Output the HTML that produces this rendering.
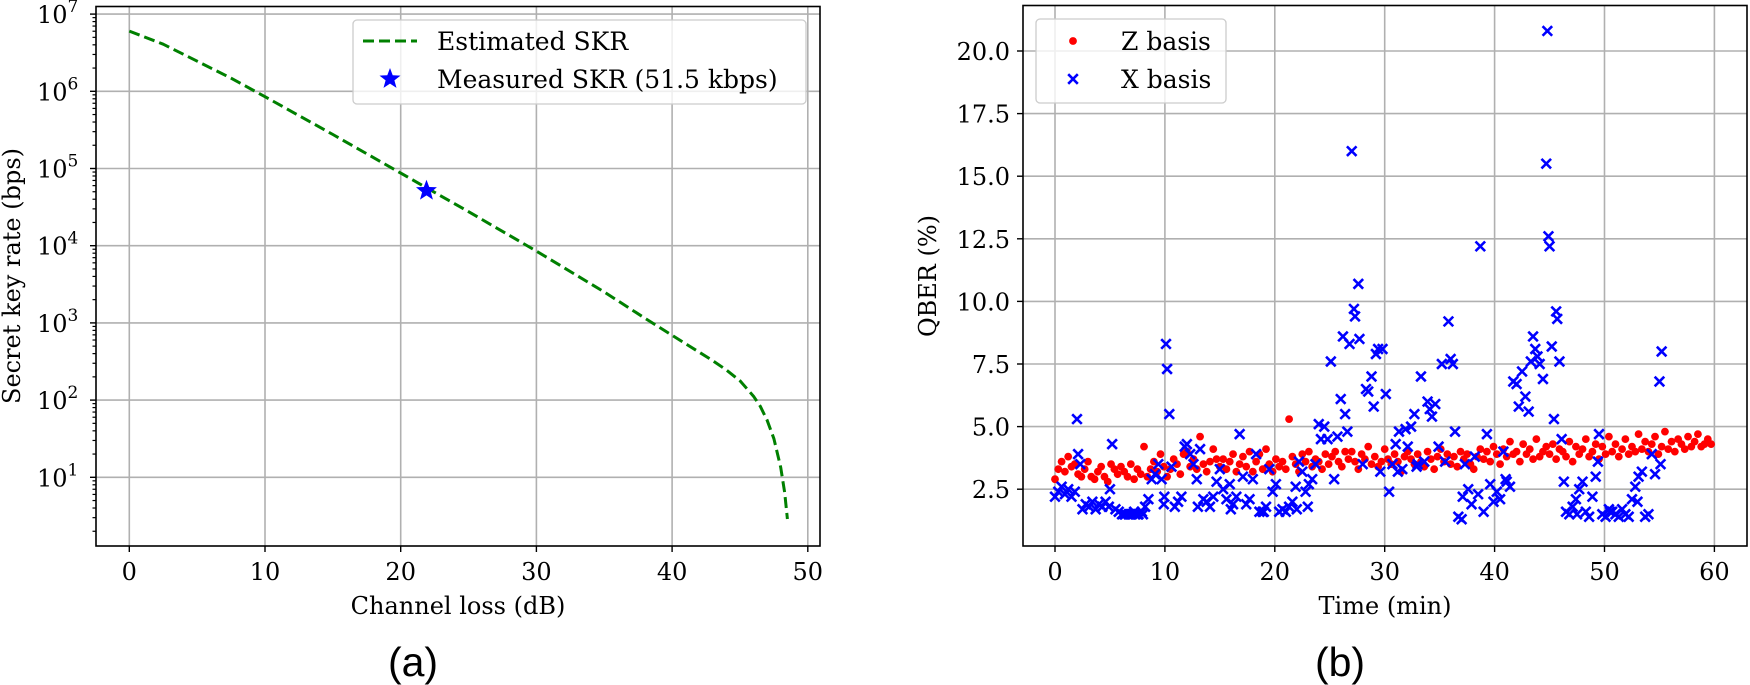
<!DOCTYPE html>
<html><head><meta charset="utf-8">
<style>
html,body{margin:0;padding:0;background:#fff;}
svg{display:block;}
text{font-family:"DejaVu Serif","Liberation Serif",serif;fill:#000;}
.cap{font-family:"Liberation Sans",Arial,sans-serif;}
</style></head>
<body>
<svg id="fig" width="1750" height="685" viewBox="0 0 1750 685" xmlns="http://www.w3.org/2000/svg">
  <g id="pa"></g>
  <g id="pb"></g>
</svg>
<script>
// ---------- Panel (a) data ----------
const lossValues = [0,2.5,5,7.5,10,15,20,25,30,35,38,40,42,43,44,45,46,46.5,47,47.5,48,48.3,48.5];
const skrLog10 = [6.78,6.61,6.39,6.17,5.93,5.44,4.94,4.44,3.93,3.40,3.06,2.84,2.62,2.51,2.39,2.25,2.05,1.92,1.74,1.50,1.13,0.8,0.46];
const measuredLoss = [21.9];
const measuredSkr = [51500];
const aXTicks = [0,10,20,30,40,50];
const aYTickExp = [1,2,3,4,5,6,7];

// ---------- Panel (b) data ----------
const zTimeStep = 0.3;
const zQber = [
2.9,3.3,3.6,3.2,3.8,3.4,3.5,3.1,3.0,3.3,
3.6,3.0,2.9,3.2,3.4,3.0,2.8,3.5,3.3,3.1,
3.4,3.2,3.0,3.5,2.9,3.3,3.1,4.2,3.0,3.3,
3.6,3.2,3.9,3.4,3.0,3.3,3.7,3.5,3.1,3.9,
4.0,3.4,3.7,3.3,4.6,3.5,3.2,3.6,4.1,3.7,
3.4,3.7,3.3,3.6,3.9,3.2,3.5,3.8,3.4,4.0,
3.2,3.6,3.9,3.3,4.1,3.5,3.2,3.7,3.4,3.6,
3.3,5.3,3.8,3.5,3.2,3.9,3.6,4.0,3.4,3.7,
3.6,3.3,3.9,3.5,3.8,4.0,3.6,3.4,4.0,3.7,
4.0,3.6,3.3,3.9,3.7,4.2,3.5,3.8,3.4,3.6,
4.1,3.7,3.5,3.9,3.6,3.2,3.8,4.0,3.7,3.5,
3.9,3.6,3.4,4.0,3.7,3.3,3.8,4.1,3.6,3.9,
3.5,3.8,3.4,4.0,3.7,3.9,3.5,3.3,3.8,4.1,
3.7,4.0,3.6,4.2,3.9,3.5,4.1,3.8,4.4,3.9,
4.0,3.6,4.3,3.9,4.1,3.7,4.5,3.8,4.0,4.2,
3.9,4.3,3.7,4.1,4.0,3.8,4.4,3.6,4.2,3.9,
4.1,4.5,3.8,4.0,4.3,3.7,4.2,3.9,4.6,4.0,
4.3,3.8,4.1,4.5,3.9,4.2,4.0,4.7,4.1,4.4,
4.0,4.3,4.6,3.9,4.2,4.8,4.1,4.4,4.0,4.5,
4.3,4.1,4.6,4.2,4.4,4.7,4.2,4.3,4.5,4.3];
const xTimes = [0,0.3,0.6,0.9,1.2,1.5,1.8,2.0,2.1,2.3,2.5,2.8,3.1,3.4,3.7,4.0,4.3,4.6,4.9,5.0,5.2,5.5,5.8,6.1,6.4,6.7,7.0,7.3,7.6,7.9,8.2,8.5,8.8,9.1,9.4,9.7,9.9,9.95,
10.1,10.2,10.4,10.6,10.9,11.2,11.5,11.8,12.0,12.3,12.6,12.9,13.2,13.5,13.8,14.1,14.4,14.7,15.0,15.3,15.6,15.9,16.2,16.5,16.8,17.1,17.4,17.7,18.0,18.3,18.6,18.9,19.2,19.5,19.8,
20.1,20.4,20.7,21.0,21.3,21.6,21.9,22.2,22.5,22.8,23.1,23.4,23.7,24.0,24.2,24.5,24.8,25.1,25.4,25.7,26.0,26.2,26.4,26.6,26.8,27.0,27.2,27.3,27.6,27.7,28.0,28.3,28.5,28.8,29.0,29.2,29.4,29.6,29.8,
30.1,30.4,30.7,31.0,31.3,31.6,31.9,32.1,32.4,32.7,33.0,33.3,33.6,33.9,34.1,34.3,34.6,34.9,35.2,35.5,35.8,36.0,36.2,36.4,36.7,37.0,37.3,37.6,37.9,38.2,38.5,38.7,39.0,39.3,39.6,39.9,
40.2,40.5,40.8,41.1,41.4,41.7,42.0,42.2,42.5,42.8,43.1,43.3,43.5,43.7,43.9,44.1,44.4,44.7,44.8,44.9,45.0,45.2,45.4,45.6,45.7,45.9,46.1,46.3,46.5,46.8,47.1,47.4,47.7,48.0,48.3,48.6,48.9,49.2,49.4,49.5,49.8,
50.1,50.4,50.7,51.0,51.3,51.6,51.9,52.2,52.5,52.8,53.1,53.4,53.7,54.0,54.3,54.6,55.0,55.1,55.2,
6.3,6.9,7.2,7.5,8.0,13.0,16.0,19.0,22.0,23.0,31.2,32.9,37.1,41.0,47.5,50.5,53.0];
const xQber = [2.2,2.4,2.6,2.3,2.5,2.2,2.4,5.3,3.9,3.5,1.7,1.9,1.8,2.0,1.7,1.9,1.8,2.0,1.8,2.5,4.3,1.7,1.6,1.5,1.5,1.5,1.5,1.5,1.5,1.6,1.8,2.1,2.9,3.1,3.5,2.9,1.9,2.2,
8.3,7.3,5.5,3.4,1.8,2.0,2.2,4.2,4.3,3.9,3.5,2.9,4.1,2.1,2.0,1.8,2.2,2.8,3.3,2.5,2.1,2.7,1.9,2.2,4.7,3.0,1.9,2.1,2.9,3.9,1.6,1.6,1.8,3.3,2.4,
2.7,1.6,1.7,1.6,1.8,2.0,2.6,3.6,3.2,2.4,2.7,2.9,3.5,5.1,4.5,5.0,4.5,7.6,2.9,4.6,6.1,8.6,5.5,4.8,8.3,16.0,9.7,9.4,10.7,8.5,3.5,6.5,6.4,7.0,5.8,7.9,8.1,3.2,8.1,
6.3,2.4,3.5,4.3,4.8,3.3,4.9,4.2,5.0,5.5,3.5,7.0,3.6,6.0,5.7,5.4,5.9,4.2,7.5,3.6,9.2,7.7,7.5,4.8,1.4,1.3,3.5,2.5,1.9,3.8,2.3,12.2,1.6,4.7,2.7,2.0,
2.4,2.1,4.0,2.8,2.6,6.8,6.7,5.8,7.2,6.2,5.6,7.6,8.6,8.1,7.8,7.5,6.9,15.5,20.8,12.6,12.2,8.2,5.3,9.6,9.3,7.6,4.5,2.8,1.6,1.5,1.8,2.1,2.5,2.8,1.6,1.4,2.2,3.0,3.6,4.7,1.5,
1.4,1.7,1.6,1.5,1.4,1.7,1.5,1.4,2.1,2.6,3.0,3.2,1.4,1.5,3.9,3.1,6.8,3.5,8.0,
1.5,1.5,1.6,1.5,1.5,1.8,1.7,1.6,1.7,1.8,3.2,3.4,2.2,2.9,1.5,1.6,2.0];
const bXTicks = [0,10,20,30,40,50,60];
const bYTicks = [2.5,5.0,7.5,10.0,12.5,15.0,17.5,20.0];

const NS = "http://www.w3.org/2000/svg";
function mk(parent, tag, attrs, txt){
  const e = document.createElementNS(NS, tag);
  for (const k in attrs) e.setAttribute(k, attrs[k]);
  if (txt !== undefined) e.textContent = txt;
  parent.appendChild(e);
  return e;
}

// ---------- Panel (a) ----------
const A = {l:96, r:820, t:6.5, b:546};
const ax = v => 129.3 + v * 13.57;
const ay = lg => 477.3 - (lg - 1) * 77.2;
const pa = document.getElementById('pa');
aXTicks.forEach(v => {
  const g = mk(pa,'line',{x1:ax(v),x2:ax(v),y1:A.t,y2:A.b,stroke:'#b0b0b0','stroke-width':1.6});
  
  
});
aYTickExp.forEach(e => {
  const g = mk(pa,'line',{x1:A.l,x2:A.r,y1:ay(e),y2:ay(e),stroke:'#b0b0b0','stroke-width':1.6});
  
  
});
for (let e = 0; e <= 7; e++) {
  for (let m = 2; m <= 9; m++) {
    const y = ay(e + Math.log10(m));
    if (y < A.t || y > A.b) continue;
    const t = mk(pa,'line',{x1:A.l-3.5,x2:A.l,y1:y,y2:y,stroke:'#000','stroke-width':1.2});
    
    
  }
}
const pts = lossValues.map((v,i) => ax(v).toFixed(1) + ',' + ay(skrLog10[i]).toFixed(1)).join(' ');
const curve = mk(pa,'polyline',{points:pts,fill:'none',stroke:'#008000','stroke-width':3,'stroke-dasharray':'11,5','stroke-linejoin':'round'});


function starPath(cx, cy, R){
  const r = R * 0.42; let d = '';
  for (let i = 0; i < 10; i++) {
    const ang = -Math.PI/2 + i * Math.PI/5; const rr = i % 2 ? r : R;
    d += (i ? 'L' : 'M') + (cx + rr*Math.cos(ang)).toFixed(1) + ',' + (cy + rr*Math.sin(ang)).toFixed(1);
  }
  return d + 'Z';
}
measuredLoss.forEach((v,i) => {
  const s = mk(pa,'path',{d:starPath(ax(v), ay(Math.log10(measuredSkr[i])), 11),fill:'#0000ff'});
  
  
});
const fa = mk(pa,'rect',{x:A.l,y:A.t,width:A.r-A.l,height:A.b-A.t,fill:'none',stroke:'#000','stroke-width':1.6});


aXTicks.forEach(v => {
  const t = mk(pa,'line',{x1:ax(v),x2:ax(v),y1:A.b,y2:A.b+6,stroke:'#000','stroke-width':1.4});
  
  
  const l = mk(pa,'text',{x:ax(v),y:580,'font-size':24,'text-anchor':'middle'}, String(v));
  
  
});
aYTickExp.forEach(e => {
  const t = mk(pa,'line',{x1:A.l-6,x2:A.l,y1:ay(e),y2:ay(e),stroke:'#000','stroke-width':1.4});
  
  
  const l = mk(pa,'text',{x:37,y:ay(e)+9,'font-size':24});
  
  
  mk(l,'tspan',{},'10');
  mk(l,'tspan',{dy:-11,'font-size':17},String(e));
});
const axl = mk(pa,'text',{x:458,y:614,'font-size':24,'text-anchor':'middle'},'Channel loss (dB)');


const ayl = mk(pa,'text',{x:0,y:0,'font-size':24,'text-anchor':'middle',transform:'translate(20,276) rotate(-90)'},'Secret key rate (bps)');


const capa = mk(pa,'text',{x:413,y:676,'font-size':41,'text-anchor':'middle','class':'cap'},'(a)');


const lga = mk(pa,'g',{});


mk(lga,'rect',{x:353,y:20,width:453,height:84,rx:4,fill:'#fff','fill-opacity':0.8,stroke:'#cccccc','stroke-width':1.3});
mk(lga,'line',{x1:363,x2:417,y1:41,y2:41,stroke:'#008000','stroke-width':3,'stroke-dasharray':'11,5'});
const le1 = mk(lga,'text',{x:437,y:50,'font-size':25},'Estimated SKR');


mk(lga,'path',{d:starPath(390,79,11),fill:'#0000ff'});
const le2 = mk(lga,'text',{x:437,y:88,'font-size':25},'Measured SKR (51.5 kbps)');



// ---------- Panel (b) ----------
const B = {l:1023, r:1747, t:5.5, b:546};
const bx = v => 1055 + v * 10.99;
const by = v => 489.2 - (v - 2.5) * 25.04;
const pb = document.getElementById('pb');
bXTicks.forEach(v => {
  const g = mk(pb,'line',{x1:bx(v),x2:bx(v),y1:B.t,y2:B.b,stroke:'#b0b0b0','stroke-width':1.6});
  
  
});
bYTicks.forEach(v => {
  const g = mk(pb,'line',{x1:B.l,x2:B.r,y1:by(v),y2:by(v),stroke:'#b0b0b0','stroke-width':1.6});
  
  
});
const zg = mk(pb,'g',{fill:'#ff0000'});


zQber.forEach((v,i) => {
  const c = mk(zg,'circle',{cx:bx(i*zTimeStep),cy:by(v),r:3.9});
  
  
});
function xMark(g, cx, cy, s){
  return mk(g,'path',{d:`M${cx-s},${cy-s}L${cx+s},${cy+s}M${cx-s},${cy+s}L${cx+s},${cy-s}`});
}
const xg = mk(pb,'g',{stroke:'#0000ff','stroke-width':2.6,fill:'none'});


xTimes.forEach((t,i) => {
  const m = xMark(xg, bx(t), by(xQber[i]), 4.8);
  
  
});
const fb = mk(pb,'rect',{x:B.l,y:B.t,width:B.r-B.l,height:B.b-B.t,fill:'none',stroke:'#000','stroke-width':1.6});


bXTicks.forEach(v => {
  const t = mk(pb,'line',{x1:bx(v),x2:bx(v),y1:B.b,y2:B.b+6,stroke:'#000','stroke-width':1.4});
  
  
  const l = mk(pb,'text',{x:bx(v),y:580,'font-size':24,'text-anchor':'middle'},String(v));
  
  
});
bYTicks.forEach(v => {
  const t = mk(pb,'line',{x1:B.l-6,x2:B.l,y1:by(v),y2:by(v),stroke:'#000','stroke-width':1.4});
  
  
  const l = mk(pb,'text',{x:1010,y:by(v)+9,'font-size':24,'text-anchor':'end'},v.toFixed(1));
  
  
});
const bxl = mk(pb,'text',{x:1385,y:614,'font-size':24,'text-anchor':'middle'},'Time (min)');


const byl = mk(pb,'text',{x:0,y:0,'font-size':24,'text-anchor':'middle',transform:'translate(936,276) rotate(-90)'},'QBER (%)');


const capb = mk(pb,'text',{x:1340,y:676,'font-size':41,'text-anchor':'middle','class':'cap'},'(b)');


const lgb = mk(pb,'g',{});


mk(lgb,'rect',{x:1036,y:19,width:190,height:84,rx:4,fill:'#fff','fill-opacity':0.8,stroke:'#cccccc','stroke-width':1.3});
mk(lgb,'circle',{cx:1073,cy:41,r:3.9,fill:'#ff0000'});
const lb1 = mk(lgb,'text',{x:1121,y:50,'font-size':25},'Z basis');


const lgx = mk(lgb,'g',{stroke:'#0000ff','stroke-width':2.6});
xMark(lgx,1073,79,4.8);
const lb2 = mk(lgb,'text',{x:1121,y:88,'font-size':25},'X basis');


</script>
</body></html>
